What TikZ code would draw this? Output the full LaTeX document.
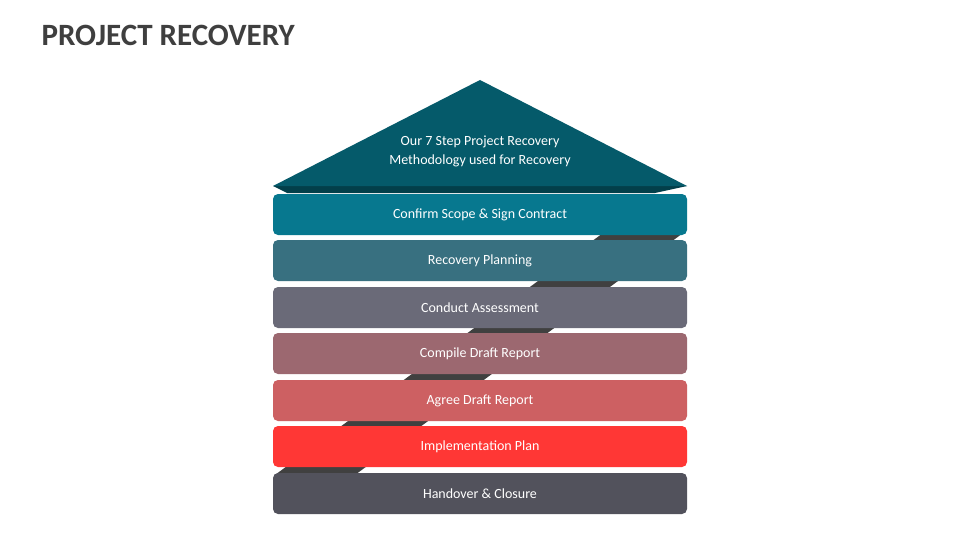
\documentclass[tikz,border=0pt]{standalone}
\usepackage{fontspec}
\setmainfont{Carlito}
\definecolor{roof}{HTML}{055A6A}
\definecolor{band}{HTML}{033F4A}
\definecolor{ribbon}{HTML}{404040}
\definecolor{cA}{HTML}{07788F}
\definecolor{cB}{HTML}{387080}
\definecolor{cC}{HTML}{6A6A78}
\definecolor{cD}{HTML}{9C6870}
\definecolor{cE}{HTML}{CD6062}
\definecolor{cF}{HTML}{FF3735}
\definecolor{cG}{HTML}{52525C}
\definecolor{titlec}{HTML}{3F3F3F}
\begin{document}
\begin{tikzpicture}[x=1pt,y=-1pt,
  bar/.style={rounded corners=5pt,minimum width=414pt,minimum height=41pt,inner sep=0pt,text=white,font=\fontsize{14}{16}\selectfont}]
\useasboundingbox[fill=white] (0,0) rectangle (960,540);
\node[anchor=west,font=\fontsize{31}{36}\selectfont\bfseries,text=titlec] (title) at (38,35) {PROJECT RECOVERY};
% ribbon behind bars
\begin{scope}
\clip (273,235) rectangle (687,473);
\fill[ribbon] (656,194) -- (736,194) -- (302,514) -- (222,514) -- cycle;
\end{scope}
% roof
\fill[band] (273,186) -- (687,186) -- (655,193) -- (287,193) -- cycle;
\fill[roof] (480,80) -- (687,186) -- (273,186) -- cycle;
\node[text=white,align=center,font=\fontsize{14}{19}\selectfont] (roofTxt) at (480,151) {Our 7 Step Project Recovery\\Methodology used for Recovery};
\node[bar,fill=cA] (b1) at (480,214.5) {Confirm Scope \& Sign Contract};
\node[bar,fill=cB] (b2) at (480,260.5) {Recovery Planning};
\node[bar,fill=cC] (b3) at (480,307.5) {Conduct Assessment};
\node[bar,fill=cD] (b4) at (480,353.5) {Compile Draft Report};
\node[bar,fill=cE] (b5) at (480,400.5) {Agree Draft Report};
\node[bar,fill=cF] (b6) at (480,446.5) {Implementation Plan};
\node[bar,fill=cG] (b7) at (480,493.5) {Handover \& Closure};
\end{tikzpicture}
\end{document}
